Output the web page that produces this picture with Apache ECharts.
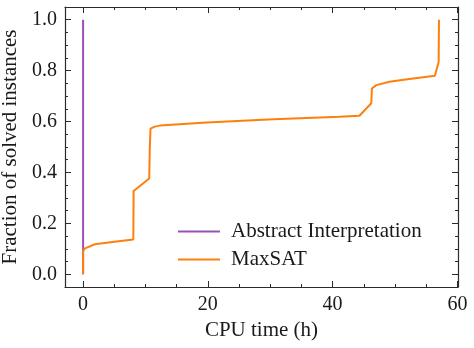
<!DOCTYPE html>
<html>
<head>
<meta charset="utf-8">
<script src="https://cdn.jsdelivr.net/npm/echarts@6/dist/echarts.min.js"></script>
<style>html,body{margin:0;padding:0;background:#fff}#c{width:474px;height:348px}</style>
</head>
<body>
<div id="c"></div>
<script>
const seriesNames = ['Abstract Interpretation', 'MaxSAT'];
const aiX = [0, 0];
const aiY = [0, 1.0];
const maxsatX = [0, 0, 0.3, 0.6, 1.9, 5, 8.05, 8.1, 10.6, 10.7, 10.8, 11.5, 12.3, 19.8, 30.5, 41.1, 44.3, 46.2, 46.3, 47.0, 49.1, 52, 56.4, 57.0, 57.05];
const maxsatY = [0, 0.092, 0.102, 0.109, 0.118, 0.128, 0.137, 0.327, 0.376, 0.5, 0.572, 0.580, 0.584, 0.596, 0.609, 0.619, 0.623, 0.672, 0.730, 0.743, 0.756, 0.766, 0.780, 0.834, 1.0];
const xMajor = [0, 20, 40, 60];
const xMinor = [5, 10, 15, 25, 30, 35, 45, 50, 55];
const yMajor = [0, 0.2, 0.4, 0.6, 0.8, 1.0];
const yMinor = [0.05, 0.1, 0.15, 0.25, 0.3, 0.35, 0.45, 0.5, 0.55, 0.65, 0.7, 0.75, 0.85, 0.9, 0.95];
const xLabel = 'CPU time (h)';
const yLabel = 'Fraction of solved instances';

const FONT = 'Liberation Serif';
const TXT = '#1a1a1a';
const AX = '#2b2b2b';
const xMin = -2.9, xMax = 60.1, yMin = -0.05, yMax = 1.05;

function xAx(pos, ticks, len, showLine, labels) {
  return {
    type: 'value', position: pos, min: xMin, max: xMax,
    axisLine: { show: showLine, onZero: false, lineStyle: { color: AX, width: 1.2 } },
    axisTick: { show: true, inside: true, length: len, customValues: ticks, lineStyle: { color: AX, width: 1 } },
    axisLabel: labels ? { show: true, customValues: ticks, fontFamily: FONT, fontSize: 20, color: TXT, margin: 8,
      formatter: v => String(Math.round(v)) } : { show: false },
    splitLine: { show: false },
    name: labels ? xLabel : '', nameLocation: 'middle', nameGap: 31,
    nameTextStyle: { fontFamily: FONT, fontSize: 21, color: TXT }
  };
}
function yAx(pos, ticks, len, showLine, labels) {
  return {
    type: 'value', position: pos, min: yMin, max: yMax,
    axisLine: { show: showLine, onZero: false, lineStyle: { color: AX, width: 1.2 } },
    axisTick: { show: true, inside: true, length: len, customValues: ticks, lineStyle: { color: AX, width: 1 } },
    axisLabel: labels ? { show: true, customValues: ticks, fontFamily: FONT, fontSize: 20, color: TXT, margin: 8,
      formatter: v => v.toFixed(1) } : { show: false },
    splitLine: { show: false },
    name: labels ? yLabel : '', nameLocation: 'middle', nameGap: 34,
    nameTextStyle: { fontFamily: FONT, fontSize: 21, color: TXT }
  };
}

const chart = echarts.init(document.getElementById('c'), null, { renderer: 'canvas' });
chart.setOption({
  animation: false,
  backgroundColor: '#fff',
  grid: { left: 65, right: 16, top: 7, bottom: 61, containLabel: false, outerBoundsMode: 'none' },
  xAxis: [
    xAx('bottom', xMajor, 6, true, true),
    xAx('bottom', xMinor, 3, false, false),
    xAx('top', xMajor, 6, true, false),
    xAx('top', xMinor, 3, false, false)
  ],
  yAxis: [
    yAx('left', yMajor, 6, true, true),
    yAx('left', yMinor, 3, false, false),
    yAx('right', yMajor, 6, true, false),
    yAx('right', yMinor, 3, false, false)
  ],
  legend: {
    data: seriesNames,
    orient: 'vertical', left: 173, top: 216,
    icon: 'rect', itemWidth: 42, itemHeight: 2, itemGap: 7,
    textStyle: { fontFamily: FONT, fontSize: 21, color: TXT, lineHeight: 21, padding: [0, 0, 0, 6] }
  },
  series: [
    { name: seriesNames[0], type: 'line', xAxisIndex: 0, yAxisIndex: 0, symbol: 'none',
      color: '#9b4fb8', lineStyle: { width: 2, color: '#9b4fb8' },
      data: aiX.map((x, i) => [x, aiY[i]]) },
    { name: seriesNames[1], type: 'line', xAxisIndex: 0, yAxisIndex: 0, symbol: 'none',
      color: '#ff7f0e', lineStyle: { width: 2, color: '#ff7f0e' },
      data: maxsatX.map((x, i) => [x, maxsatY[i]]) }
  ]
});
</script>
</body>
</html>
